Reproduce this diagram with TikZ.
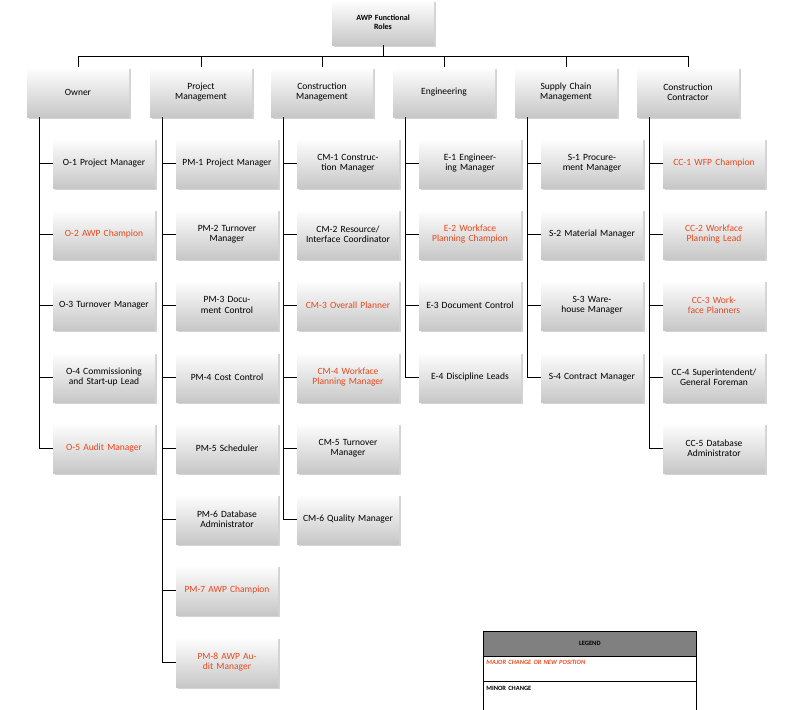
\documentclass[tikz,border=0pt]{standalone}
\usepackage{fontspec}
\setmainfont{Carlito}
\usetikzlibrary{shadows}
\definecolor{chg}{RGB}{232,72,30}
\newcommand\sls{/}
\begin{document}
\begin{tikzpicture}[x=1pt,y=-1pt,
 box/.style={minimum width=102pt,minimum height=50pt,text width=96pt,align=center,
   top color=white,bottom color=black!22,draw=none,
   drop shadow={shadow xshift=1.5pt,shadow yshift=-1.5pt,opacity=0.35},
   font=\fontsize{9.5}{10.5}\selectfont,inner sep=1pt},
 rd/.style={text=chg},
 bk/.style={},
 ln/.style={draw=black,line width=0.7pt}]
\useasboundingbox (0,0) rectangle (788,710);
\node[box,font=\bfseries\fontsize{8}{9}\selectfont,minimum height=45pt] (top) at (383,22.5) {AWP Functional\\Roles};
\coordinate (bar) at (383,56);
\draw[ln] (top.south) -- (bar);
\foreach \n/\cx/\t in {o/78/Owner,pm/201/{Project\\Management},cm/322/{Construction\\Management},e/444/Engineering,s/566/{Supply Chain\\Management},cc/688/{Construction\\Contractor}}{
  \node[box] (\n) at (\cx,92) {\t};
  \coordinate (\n t) at (\cx,56);
  \draw[ln] (\n t) -- (\n.north);
}
\draw[ln] (ot) -- (cct);
\foreach \p/\x/\list in {
 o/27/{O-1 Project Manager/bk,O-2 AWP Champion/rd,O-3 Turnover Manager/bk,O-4 Commissioning and Start-up Lead/bk,O-5 Audit Manager/rd},
 pm/150/{PM-1 Project Manager/bk,PM-2 Turnover Manager/bk,PM-3 Document Control/bk,PM-4 Cost Control/bk,PM-5 Scheduler/bk,PM-6 Database Administrator/bk,PM-7 AWP Champion/rd,PM-8 AWP Audit Manager/rd},
 cm/271/{CM-1 Construction Manager/bk,CM-2 Resource\sls{} Interface Coordinator/bk,CM-3 Overall Planner/rd,CM-4 Workface Planning Manager/rd,CM-5 Turnover Manager/bk,CM-6 Quality Manager/bk},
 e/393/{E-1 Engineering Manager/bk,E-2 Workface Planning Champion/rd,E-3 Document Control/bk,E-4 Discipline Leads/bk},
 s/515/{S-1 Procurement Manager/bk,S-2 Material Manager/bk,S-3 Warehouse Manager/bk,S-4 Contract Manager/bk},
 cc/637/{CC-1 WFP Champion/rd,CC-2 Workface Planning Lead/rd,CC-3 Workface Planners/rd,CC-4 Superintendent\sls{} General Foreman/bk,CC-5 Database Administrator/bk}}{
 \foreach \t/\s [count=\i] in \list {
   \pgfmathsetmacro\yy{{163,234,305,377,448,519,590,662}[\i-1]}
   \node[box,\s,text width=90pt] (\p k\i) at (\x+77,\yy) {\t};
   \coordinate (\p j\i) at (\x+12,\yy);
   \draw[ln] (\p j\i) -- (\p k\i.west);
   \global\let\lasty\yy
 }
 \coordinate (\p v) at (\x+12,117);
 \coordinate (\p last) at (\x+12,\lasty);
 \draw[ln] (\p v) -- (\p last);
}
% legend
\node[draw,line width=0.7pt,fill=black!50,minimum width=213pt,minimum height=25pt,anchor=north west,inner sep=0pt,font=\bfseries\fontsize{6.5}{7}\selectfont] (lh) at (483,631) {LEGEND};
\node[draw,line width=0.7pt,minimum width=213pt,minimum height=25pt,anchor=north west,text width=207pt,align=left,inner sep=3pt,font=\bfseries\itshape\fontsize{6.5}{7}\selectfont,text=chg,text depth=12pt] (l1) at (483,656) {MAJOR CHANGE OR NEW POSITION};
\node[draw,line width=0.7pt,minimum width=213pt,minimum height=29pt,anchor=north west,text width=207pt,align=left,inner sep=3pt,font=\bfseries\fontsize{6.5}{7}\selectfont,text depth=14pt] (l2) at (483,681) {MINOR CHANGE};
\end{tikzpicture}
\end{document}
